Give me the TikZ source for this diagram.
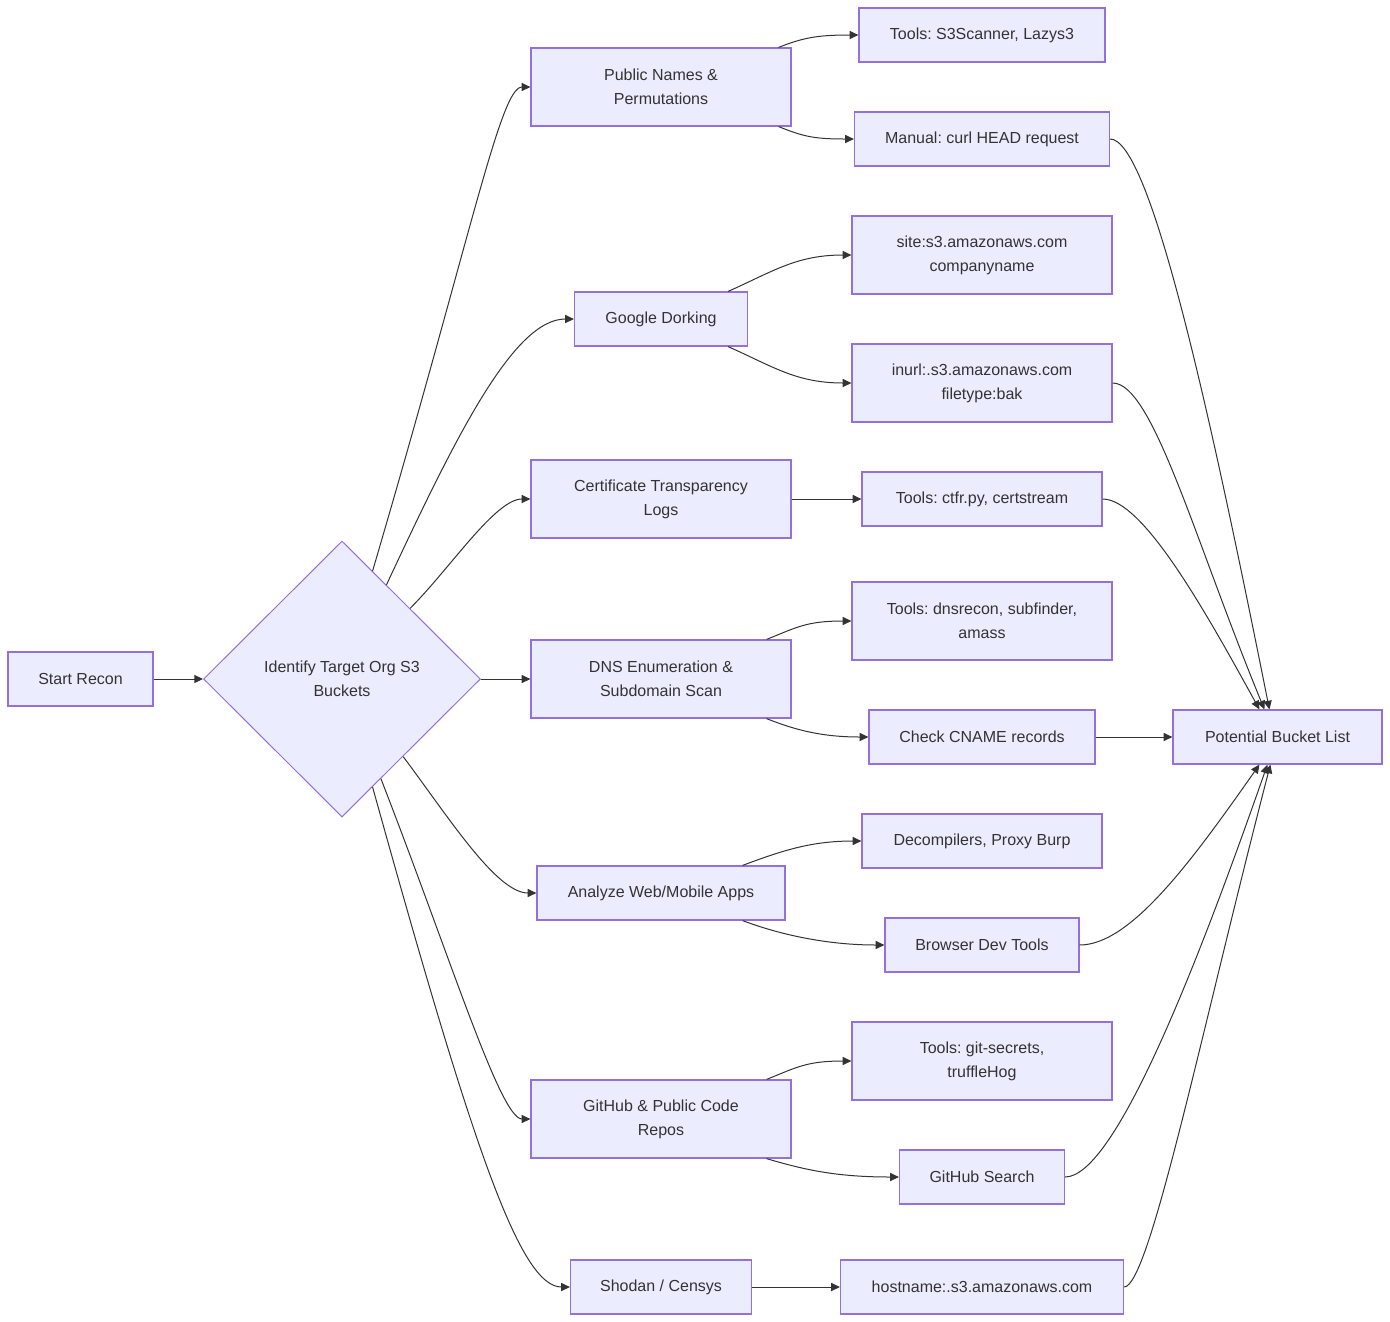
\documentclass[tikz,border=0pt]{standalone}
\usepackage{fontspec}
\setmainfont{Liberation Sans}
\usepackage{xcolor}
\usetikzlibrary{positioning, arrows.meta, shapes.geometric, calc}
\definecolor{nodeFill}{HTML}{ECECFF}
\definecolor{nodeBorder}{HTML}{9370DB}
\definecolor{inkGray}{HTML}{333333}
\frenchspacing
\tikzstyle{process} = [rectangle, minimum height=40.5pt, inner sep=0pt, text centered, align=center, draw=nodeBorder, line width=0.9pt, fill=nodeFill, text=inkGray, font=\fontsize{12}{18}\selectfont]
\tikzstyle{tallprocess} = [process, minimum height=58.5pt]
\tikzstyle{decision} = [diamond, minimum width=207.75pt, minimum height=207pt, inner sep=0pt, align=center, draw=nodeBorder, line width=0.75pt, fill=nodeFill, text=inkGray, font=\fontsize{12}{18}\selectfont]
\tikzstyle{arrow} = [line width=0.75pt, draw=inkGray, -{Triangle[length=6.5pt, width=6pt]}]

\begin{document}
\begin{tikzpicture}[x=0.75pt, y=-0.75pt, node distance=240.75pt]
    \useasboundingbox (0,0) rectangle (1390,1322);

    % Blocchi principali
    \node (startRecon) [process, minimum width=108.75pt] at (80.5,679) {Start Recon};
    \node (identify) [decision] at (342,679) {Identify Target Org S3\\Buckets};

    % Tecniche
    \node (pubNames) [tallprocess, minimum width=195pt] at (661,87) {Public Names \&\\Permutations};
    \node (googleDork) [process, minimum width=129.75pt] at (661,319) {Google Dorking};
    \node (certLogs) [tallprocess, minimum width=195pt] at (661,499) {Certificate Transparency\\Logs};
    \node (dnsEnum) [tallprocess, minimum width=195pt] at (661,679) {DNS Enumeration \&\\Subdomain Scan};
    \node (appScan) [process, minimum width=186pt] at (661,893) {Analyze Web/Mobile Apps};
    \node (codeRepos) [tallprocess, minimum width=195pt] at (661,1119) {GitHub \& Public Code\\Repos};
    \node (shodan) [process, minimum width=135.75pt] at (661,1287) {Shodan / Censys};

    % Strumenti
    \node (s3Tools) [process, minimum width=184.5pt, right of=pubNames, yshift=39pt] {Tools: S3Scanner, Lazys3};
    \node (curlHead) [process, minimum width=191.25pt, right of=pubNames, yshift=-39pt] {Manual: curl HEAD request};
    \node (siteDork) [tallprocess, minimum width=195pt, right of=googleDork, yshift=48pt] {site:s3.amazonaws.com\\companyname};
    \node (inurlDork) [tallprocess, minimum width=195pt, right of=googleDork, yshift=-48pt] {inurl:.s3.amazonaws.com\\filetype:bak};
    \node (ctTools) [process, minimum width=180pt, right of=certLogs] {Tools: ctfr.py, certstream};
    \node (dnsTools) [tallprocess, minimum width=195pt, right of=dnsEnum, yshift=43.5pt] {Tools: dnsrecon, subfinder,\\amass};
    \node (cname) [process, minimum width=169.5pt, right of=dnsEnum, yshift=-43.5pt] {Check CNAME records};
    \node (decomp) [process, minimum width=180pt, right of=appScan, yshift=39pt] {Decompilers, Proxy Burp};
    \node (devTools) [process, minimum width=145.5pt, right of=appScan, yshift=-39pt] {Browser Dev Tools};
    \node (gitTools) [tallprocess, minimum width=195pt, right of=codeRepos, yshift=43.5pt] {Tools: git-secrets,\\truffleHog};
    \node (gitSearch) [process, minimum width=123.75pt, right of=codeRepos, yshift=-43.5pt] {GitHub Search};
    \node (hostDork) [process, minimum width=212.25pt, right of=shodan] {hostname:.s3.amazonaws.com};
    \node (bucketList) [process, minimum width=156.75pt, right of=cname, xshift=-19.125pt] {Potential Bucket List};

    % Frecce principali
    \draw [arrow] (startRecon) -- (identify);
    \draw [arrow] ($(identify.north)!0.22!(identify.east)$) .. controls +(100,-340) and +(-30,0) .. (pubNames.west);
    \draw [arrow] ($(identify.north)!0.32!(identify.east)$) .. controls +(70,-150) and +(-60,0) .. (googleDork.west);
    \draw [arrow] ($(identify.north)!0.49!(identify.east)$) .. controls +(40,-40) and +(-35,0) .. (certLogs.west);
    \draw [arrow] (identify.east) -- (dnsEnum.west);
    \draw [arrow] ($(identify.south)!0.44!(identify.east)$) .. controls +(45,60) and +(-40,0) .. (appScan.west);
    \draw [arrow] ($(identify.south)!0.28!(identify.east)$) .. controls +(70,180) and +(-30,0) .. (codeRepos.west);
    \draw [arrow] ($(identify.south)!0.22!(identify.east)$) .. controls +(100,360) and +(-50,0) .. (shodan.west);

    % Frecce verso gli strumenti
    \draw [arrow] ($(pubNames.north east)+(-13,0)$) .. controls +(25,-10) and +(-40,0) .. (s3Tools.west);
    \draw [arrow] ($(pubNames.south east)+(-13,0)$) .. controls +(25,10) and +(-40,0) .. (curlHead.west);
    \draw [arrow] ($(googleDork.north east)+(-20,0)$) .. controls +(45,-20) and +(-55,0) .. (siteDork.west);
    \draw [arrow] ($(googleDork.south east)+(-20,0)$) .. controls +(45,20) and +(-55,0) .. (inurlDork.west);
    \draw [arrow] (certLogs) -- (ctTools);
    \draw [arrow] ($(dnsEnum.north east)+(-25,0)$) .. controls +(30,-12) and +(-45,0) .. (dnsTools.west);
    \draw [arrow] ($(dnsEnum.south east)+(-25,0)$) .. controls +(30,12) and +(-45,0) .. (cname.west);
    \draw [arrow] ($(appScan.north east)+(-43,0)$) .. controls +(40,-15) and +(-50,0) .. (decomp.west);
    \draw [arrow] ($(appScan.south east)+(-43,0)$) .. controls +(40,15) and +(-55,0) .. (devTools.west);
    \draw [arrow] ($(codeRepos.north east)+(-25,0)$) .. controls +(30,-12) and +(-45,0) .. (gitTools.west);
    \draw [arrow] ($(codeRepos.south east)+(-25,0)$) .. controls +(40,12) and +(-60,0) .. (gitSearch.west);
    \draw [arrow] (shodan) -- (hostDork);

    % Frecce verso la lista dei bucket
    \draw [arrow] (curlHead.east) .. controls +(40,0) and +(-60,-300) .. ($(bucketList.north west)+(97,0)$);
    \draw [arrow] (inurlDork.east) .. controls +(40,0) and +(-70,-170) .. ($(bucketList.north west)+(92,0)$);
    \draw [arrow] (ctTools.east) .. controls +(40,0) and +(-55,-100) .. ($(bucketList.north west)+(87,0)$);
    \draw [arrow] (cname) -- (bucketList);
    \draw [arrow] (devTools.east) .. controls +(50,0) and +(-70,100) .. ($(bucketList.south west)+(87,0)$);
    \draw [arrow] (gitSearch.east) .. controls +(50,0) and +(-70,200) .. ($(bucketList.south west)+(95,0)$);
    \draw [arrow] (hostDork.east) .. controls +(25,0) and +(-70,270) .. ($(bucketList.south west)+(98,0)$);

\end{tikzpicture}
\end{document}
